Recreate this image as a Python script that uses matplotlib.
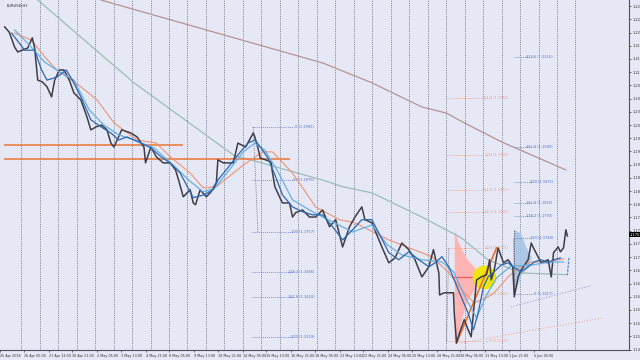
import matplotlib
matplotlib.use("Agg")
import matplotlib.pyplot as plt
import numpy as np

price_bar = [0, 6, 13, 17, 23, 30, 36, 39, 43, 49,
             55, 61, 65, 71, 77, 84, 90, 99, 107, 112,
             119, 126, 133, 138, 142, 148, 152, 164, 172, 181,
             183, 190, 197, 206, 215, 222, 226, 232, 241, 245,
             248, 254, 262, 268, 275, 277, 284, 297, 303, 313,
             323, 325, 329, 332, 339, 346, 348, 351, 357, 361,
             370, 374, 378, 387, 396, 404, 413, 422, 430, 439,
             448, 455, 464, 468, 477, 490, 499, 507, 516, 525,
             533, 542, 551, 557, 564, 565, 571, 583, 584, 587,
             591, 597, 602, 606, 613, 619, 626, 630, 632, 636,
             641, 648, 654, 660, 662, 667, 671, 680, 684, 688,
             697, 706, 710, 713, 719, 722, 726, 729, 731]
price_close = [1.2223, 1.2211, 1.2177, 1.2166, 1.2170, 1.2175, 1.2198, 1.2175, 1.2102, 1.2098,
               1.2087, 1.2064, 1.2102, 1.2125, 1.2125, 1.2102, 1.2073, 1.2057, 1.2018, 1.1989,
               1.1996, 1.2000, 1.1989, 1.1959, 1.1950, 1.1973, 1.1989, 1.1982, 1.1973, 1.1950,
               1.1914, 1.1950, 1.1928, 1.1914, 1.1914, 1.1898, 1.1875, 1.1837, 1.1853, 1.1823,
               1.1819, 1.1853, 1.1837, 1.1848, 1.1869, 1.1921, 1.1914, 1.1914, 1.1959, 1.1950,
               1.1982, 1.1973, 1.1948, 1.1925, 1.1921, 1.1916, 1.1891, 1.1860, 1.1837, 1.1823,
               1.1823, 1.1791, 1.1801, 1.1807, 1.1791, 1.1791, 1.1807, 1.1769, 1.1785, 1.1723,
               1.1769, 1.1791, 1.1814, 1.1785, 1.1778, 1.1723, 1.1687, 1.1698, 1.1732, 1.1717,
               1.1694, 1.1655, 1.1678, 1.1717, 1.1664, 1.1614, 1.1619, 1.1619, 1.1573, 1.1505,
               1.1528, 1.1558, 1.1535, 1.1519, 1.1648, 1.1655, 1.1660, 1.1694, 1.1648, 1.1671,
               1.1721, 1.1687, 1.1694, 1.1678, 1.1610, 1.1655, 1.1671, 1.1694, 1.1732, 1.1717,
               1.1687, 1.1694, 1.1655, 1.1710, 1.1723, 1.1712, 1.1721, 1.1762, 1.1748]

# moving averages (sampled)
ma_fast_bar = [9, 26, 39, 48, 55, 68, 80, 88, 99, 112, 125, 138, 148, 159, 177, 190, 203, 215,
               228, 245, 258, 271, 277, 290, 303, 316, 325, 333, 342, 351, 361, 374, 387, 400,
               413, 426, 439, 452, 464, 477, 486, 499, 512, 525, 538, 551, 559, 568, 577, 584,
               593, 602, 609, 615, 622, 628, 636, 645, 654, 662, 671, 680, 688, 697, 706, 713, 722]
ma_fast = [1.2209, 1.2170, 1.2170, 1.2125, 1.2102, 1.2109, 1.2125, 1.2102, 1.2064, 1.2012,
           1.1996, 1.1982, 1.1966, 1.1973, 1.1959, 1.1948, 1.1928, 1.1914, 1.1891, 1.1835,
           1.1841, 1.1853, 1.1875, 1.1903, 1.1932, 1.1959, 1.1966, 1.1948, 1.1925, 1.1887,
           1.1841, 1.1814, 1.1803, 1.1796, 1.1796, 1.1769, 1.1739, 1.1762, 1.1785, 1.1785,
           1.1755, 1.1710, 1.1694, 1.1712, 1.1694, 1.1678, 1.1687, 1.1701, 1.1678, 1.1648,
           1.1610, 1.1573, 1.1535, 1.1573, 1.1633, 1.1655, 1.1667, 1.1682, 1.1687, 1.1676,
           1.1667, 1.1678, 1.1689, 1.1694, 1.1687, 1.1694, 1.1698]

ma_mid_bar = [13, 32, 52, 71, 90, 110, 129, 148, 168, 194, 219, 239, 258, 273, 290, 310, 325,
              338, 355, 374, 400, 426, 452, 477, 497, 516, 542, 568, 583, 600, 613, 626, 639,
              658, 684, 710, 726]
ma_mid = [1.2216, 1.2182, 1.2143, 1.2121, 1.2102, 1.2034, 1.2000, 1.1978, 1.1966, 1.1948,
          1.1909, 1.1875, 1.1848, 1.1857, 1.1894, 1.1939, 1.1959, 1.1943, 1.1894, 1.1830,
          1.1803, 1.1780, 1.1757, 1.1773, 1.1728, 1.1705, 1.1694, 1.1689, 1.1667, 1.1603,
          1.1562, 1.1614, 1.1653, 1.1680, 1.1682, 1.1689, 1.1689]

ma_slow_bar = [13, 35, 52, 68, 99, 120, 142, 172, 197, 215, 241, 258, 275, 310, 335, 348,
               374, 404, 435, 455, 499, 555, 577, 597, 610, 626, 636, 654, 667, 684, 703, 726]
ma_slow = [1.2209, 1.2193, 1.2155, 1.2125, 1.2087, 1.2057, 1.2005, 1.1966, 1.1959, 1.1928,
           1.1891, 1.1857, 1.1860, 1.1909, 1.1939, 1.1939, 1.1891, 1.1814, 1.1785, 1.1778,
           1.1739, 1.1701, 1.1664, 1.1619, 1.1596, 1.1608, 1.1619, 1.1655, 1.1676, 1.1689,
           1.1689, 1.1696]

ma100_bar = [26, 43, 168, 297, 413, 439, 477, 542, 593, 628, 671, 731]
ma100 = [1.2309, 1.2284, 1.2096, 1.1932, 1.1875, 1.1860, 1.1846, 1.1791, 1.1744, 1.1694,
         1.1664, 1.1660]

ma200_bar = [125, 413, 477, 542, 574, 597, 645, 729]
ma200 = [1.2284, 1.2141, 1.2096, 1.2041, 1.2027, 1.2005, 1.1962, 1.1898]

# horizontal levels
hlines = [1.1955, 1.1923]
hline_end = [230, 370]

# fibonacci sets: (price at 0, price at 100, levels, start bar, end bar, colour)
fib_levels_a = [0, 50, 100, 138.2, 161.8, 200]
fib_levels_b = [0, 100, 138.2, 161.8, 200, 261.8, 423.6]
fib_levels_c = [0, 50, 100, 138.2, 161.8, 200, 261.8]
fib_sets = [
    (1.1995, 1.1757, fib_levels_a, 321, 402, "#5470c8"),
    (1.1617, 1.1744, fib_levels_b, 662, 712, "#5470c8"),
    (1.1510, 1.1721, fib_levels_c, 574, 654, "#f0a080"),
]
fib_anchor = [((323, 1.1995), (329, 1.1757)),
              ((662, 1.1617), (661, 1.1744)),
              ((574, 1.1510), (577, 1.1721))]

# volume profiles
prof_red_price = [1.1762, 1.1739, 1.1717, 1.1694, 1.1678, 1.1655, 1.1633, 1.1603, 1.1564, 1.1528, 1.1505]
prof_red_width = [0, 4, 10, 17, 26, 37, 28, 17, 10, 6, 3]
prof_red_base = 584
prof_blue_price = [1.1762, 1.1755, 1.1723, 1.1701, 1.1678, 1.1660, 1.1626]
prof_blue_width = [0, 8, 15, 22, 18, 9, 2]
prof_blue_base = 662
poc_price = 1.1655

x_labels = ["25 Apr 2018", "26 Apr 05:00", "27 Apr 13:00", "30 Apr 21:00", "2 May 05:00",
            "3 May 13:00", "4 May 21:00", "8 May 05:00", "9 May 13:00", "10 May 21:00",
            "14 May 05:00", "15 May 13:00", "16 May 21:00", "18 May 05:00", "21 May 13:00",
            "22 May 21:00", "24 May 05:00", "25 May 13:00", "28 May 21:00", "30 May 05:00",
            "31 May 13:00", "1 Jun 21:00", "5 Jun 05:00"]
x_label_bar = [-6, 25, 57, 88, 120, 151, 183, 214, 246, 277, 309, 340, 372, 403, 435,
               466, 498, 529, 561, 592, 624, 655, 687]
last_price = 1.1751

bg = "#e6e8f6"
fig = plt.figure(figsize=(6.4, 3.6), dpi=100, facecolor=bg)
ax = fig.add_axes([0, 10 / 360, 629 / 640, 350 / 360], facecolor=bg)
ax.set_xlim(0, 811)
ax.set_ylim(1.1489, 1.2284)

# period separators
for gx in np.arange(21.5, 745, 24):
    ax.axvline(gx, color="#5a5a6a", lw=0.6, ls=(0, (1, 1.6)), zorder=1)

# profiles
ax.fill_betweenx(prof_red_price, prof_red_base,
                 prof_red_base + np.array(prof_red_width), color="#ffb4b4", lw=0, zorder=2)
ax.plot([prof_red_base, prof_red_base + 51], [poc_price, poc_price], color="#e86060", lw=1.0, zorder=2)
ax.fill_betweenx(prof_blue_price, prof_blue_base,
                 prof_blue_base + np.array(prof_blue_width), color="#a9c4e6", lw=0, alpha=0.9, zorder=2)
ax.plot([prof_blue_base, prof_blue_base], [prof_blue_price[0], 1.1610], color="#4a5a7a",
        lw=0.6, ls=(0, (2, 1)), zorder=2)

# long MAs
ax.plot(ma100_bar, ma100, color="#9cbcb6", lw=0.9, zorder=3)
ax.plot(ma200_bar, ma200, color="#b49494", lw=0.9, zorder=3)

# horizontal levels
for lv, xe in zip(hlines, hline_end):
    ax.plot([0, xe], [lv, lv], color="#ec8550", lw=1.3, zorder=3)

# fibonacci
for (p0, p100, levels, xs, xe, col) in fib_sets:
    for lv in levels:
        p = p0 + (p100 - p0) * lv / 100
        ax.plot([xs, xe - 26], [p, p], color=col, lw=0.6, ls=(0, (1, 1.5)), zorder=3)
        lab = ("%g" % lv) + " (%.4f)" % p
        ax.text(xe, p, lab, color=col, fontsize=2.6, ha="right", va="center", zorder=4)
for (a, b) in fib_anchor:
    ax.plot([a[0], b[0]], [a[1], b[1]], color="#606070", lw=0.6, ls=(0, (1, 1.5)), zorder=3)

# trend lines
ax.plot([587, 639], [1.1505, 1.1721], color="#f07030", lw=1.2, zorder=5)
ax.plot([658, 761], [1.1587, 1.1635], color="#98a4c8", lw=0.8, ls=(0, (1, 1.5)), zorder=3)
ax.plot([593, 777], [1.1505, 1.1562], color="#f0b0a0", lw=0.8, ls=(0, (1, 1.5)), zorder=3)
ax.plot([733, 731], [1.1698, 1.1660], color="#5080c8", lw=0.9, ls=(0, (2, 1)), zorder=5)

# highlight
ax.scatter([623], [poc_price], s=290, color="#f0e410", lw=0, zorder=4)

# price and short MAs
ax.plot(ma_slow_bar, ma_slow, color="#ea9478", lw=0.8, zorder=5)
ax.plot(price_bar, price_close, color="#3e3e48", lw=1.1, zorder=6)
ax.plot(ma_mid_bar, ma_mid, color="#64b0e2", lw=0.9, zorder=7)
ax.plot(ma_fast_bar, ma_fast, color="#2c66b0", lw=0.9, zorder=7)

# axes styling
for s in ["top", "left"]:
    ax.spines[s].set_visible(False)
for s in ["right", "bottom"]:
    ax.spines[s].set_color("#505060")
    ax.spines[s].set_linewidth(0.8)

ax.yaxis.tick_right()
yt = np.arange(1.149, 1.2275, 0.003)
ax.set_yticks(yt)
ax.set_yticklabels(["%.3f" % v for v in yt], fontsize=2.6, color="#202020")
ax.tick_params(axis="y", length=1.5, width=0.5, pad=1, colors="#303030")

ax.set_xticks(x_label_bar)
ax.set_xticklabels(x_labels, fontsize=2.4, ha="left", color="#202020")
ax.tick_params(axis="x", length=1.5, width=0.5, pad=1.2, colors="#303030")

ax.text(812, last_price, "%.4f" % last_price, fontsize=2.6, color="white", va="center",
        ha="left", bbox=dict(boxstyle="square,pad=0.15", fc="black", ec="none"),
        clip_on=False, zorder=8)

ax.text(2, 1.2275, "EURUSD,H1", fontsize=2.6, color="#202020", va="top", ha="left")

fig.savefig("out.png", dpi=100, facecolor=bg)
